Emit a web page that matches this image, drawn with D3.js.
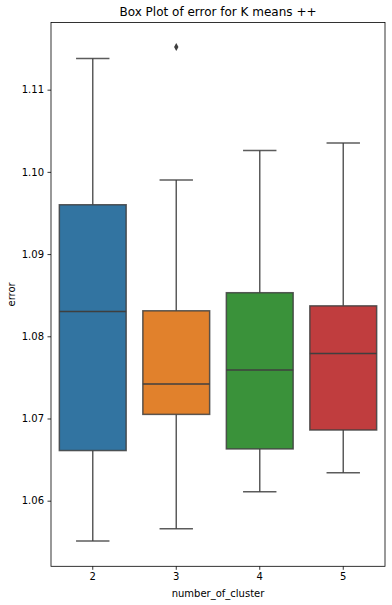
<!DOCTYPE html>
<html><head><meta charset="utf-8">
<script src="https://cdn.jsdelivr.net/npm/d3@7"></script>
<style>body{margin:0;background:#fff;} text{font-family:"DejaVu Sans",sans-serif;fill:#000;}</style>
</head><body>
<svg id="c" width="392" height="605"></svg>
<script>
const categories = ["2","3","4","5"];
const whiskerLow  = [1.0551, 1.0566, 1.0611, 1.0634];
const q1          = [1.0661, 1.0705, 1.0663, 1.0686];
const median      = [1.0830, 1.0742, 1.0759, 1.0779];
const q3          = [1.0960, 1.0831, 1.0853, 1.0837];
const whiskerHigh = [1.1138, 1.0990, 1.1026, 1.1035];
const outliers    = [[], [1.1152], [], []];
const colors      = ["#3274a1", "#e1812c", "#3a923a", "#c03d3e"];
const yTicks      = [1.06, 1.07, 1.08, 1.09, 1.10, 1.11];

const svg = d3.select("#c");
const L = 51, R = 385, T = 22.5, B = 566.3;
const x = d3.scaleBand().domain(categories).range([L, R]).paddingInner(0).paddingOuter(0);
const y = d3.scaleLinear().domain([1.05202, 1.11817]).range([B, T]);
const bw = x.bandwidth() * 0.8;
const edge = "#3f3f3f";

const g = svg.append("g");
categories.forEach((c, i) => {
  const cx = x(c) + x.bandwidth() / 2;
  const gg = g.append("g");
  gg.append("line").attr("x1", cx).attr("x2", cx).attr("y1", y(q3[i])).attr("y2", y(whiskerHigh[i]))
    .attr("stroke", edge).attr("stroke-width", 1.5).attr("stroke-opacity", 0.85);
  gg.append("line").attr("x1", cx).attr("x2", cx).attr("y1", y(q1[i])).attr("y2", y(whiskerLow[i]))
    .attr("stroke", edge).attr("stroke-width", 1.5).attr("stroke-opacity", 0.85);
  [whiskerHigh[i], whiskerLow[i]].forEach(v => {
    gg.append("line").attr("x1", cx - bw / 4).attr("x2", cx + bw / 4).attr("y1", y(v)).attr("y2", y(v))
      .attr("stroke", edge).attr("stroke-width", 1.5).attr("stroke-opacity", 0.85);
  });
  gg.append("rect").attr("x", cx - bw / 2).attr("width", bw)
    .attr("y", y(q3[i])).attr("height", y(q1[i]) - y(q3[i]))
    .attr("fill", colors[i]).attr("stroke", edge).attr("stroke-width", 1.5).attr("stroke-opacity", 0.85);
  gg.append("line").attr("x1", cx - bw / 2).attr("x2", cx + bw / 2).attr("y1", y(median[i])).attr("y2", y(median[i]))
    .attr("stroke", edge).attr("stroke-width", 1.5);
  outliers[i].forEach(v => {
    const py = y(v);
    gg.append("path").attr("d", `M${cx},${py-4}L${cx+2.2},${py}L${cx},${py+4}L${cx-2.2},${py}Z`)
      .attr("fill", edge);
  });
});

const ya = svg.append("g").attr("transform", `translate(${L},0)`)
  .call(d3.axisLeft(y).tickValues(yTicks).tickFormat(d3.format(".2f")).tickSize(3.5).tickPadding(3.5));
const xa = svg.append("g").attr("transform", `translate(0,${B})`)
  .call(d3.axisBottom(x).tickSize(3.5).tickPadding(3.5));
[ya, xa].forEach(a => {
  a.select(".domain").remove();
  a.selectAll("line").attr("stroke", "#000").attr("stroke-width", 0.8);
  a.selectAll("text").attr("font-size", 10).attr("fill", "#000").style("font-family", "DejaVu Sans");
});
svg.append("rect").attr("x", L).attr("y", T).attr("width", R - L).attr("height", B - T)
  .attr("fill", "none").attr("stroke", "#000").attr("stroke-width", 0.8);

svg.append("text").attr("x", (L + R) / 2).attr("y", 16).attr("text-anchor", "middle")
  .attr("font-size", 12).text("Box Plot of error for K means ++");
svg.append("text").attr("x", (L + R) / 2).attr("y", 597).attr("text-anchor", "middle")
  .attr("font-size", 10).text("number_of_cluster");
svg.append("text").attr("transform", `translate(15,${(T + B) / 2}) rotate(-90)`).attr("text-anchor", "middle")
  .attr("font-size", 10).text("error");
</script>
</body></html>
